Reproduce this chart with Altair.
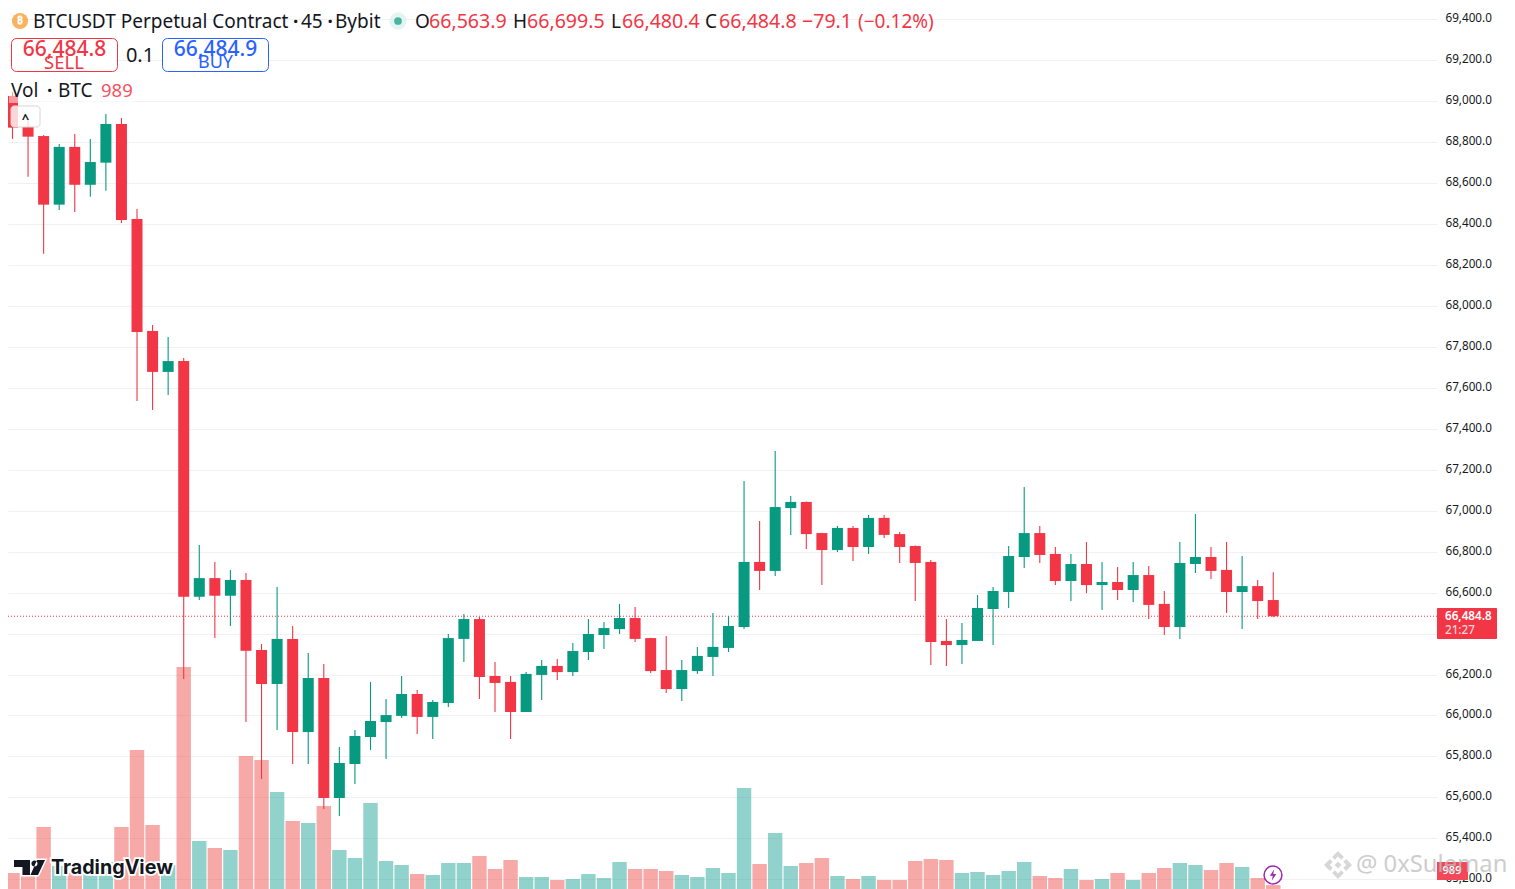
import altair as alt
import pandas as pd

# candle values (45-minute BTCUSDT)
opens = [69026,68874,68830,68495,68777,68592,68700,68889,68425,67878,67678,67731,66580,66671,66585,66662,66320,66154,66374,65919,
         66183,65597,65763,65895,65968,65998,66105,65993,66061,66374,66471,66193,66164,66017,66198,66242,66212,66310,66393,66422,
         66476,66378,66222,66129,66217,66286,66330,66432,66750,66706,67013,67043,66891,66808,66916,66823,66965,66886,66828,66750,
         66364,66344,66364,66520,66603,66774,66891,66789,66657,66740,66637,66652,66613,66686,66545,66432,66740,66774,66711,66603,
         66632,66563.9]
highs = [69045,68908,68835,68791,68840,68816,68938,68918,68474,67907,67849,67746,66833,66750,66711,66696,66349,66628,66437,66305,
         66251,65846,65929,66164,66081,66193,66125,66076,66398,66496,66481,66261,66193,66212,66271,66276,66354,66471,66457,66545,
         66530,66380,66388,66271,66335,66501,66486,67145,66950,67292,67072,67045,66893,66925,66925,66979,66979,66896,66830,66760,
         66471,66452,66588,66628,66828,67116,66925,66823,66789,66847,66750,66725,66750,66730,66608,66847,66984,66823,66847,66779,
         66662,66699.5]
lows = [68816,68631,68255,68469,68459,68534,68563,68405,67536,67492,67565,66178,66564,66378,66437,65968,65690,65929,65763,65763,
        65543,65509,65665,65831,65787,65988,65910,65885,66041,66261,66081,66017,65885,66017,66076,66173,66193,66271,66325,66398,
        66359,66208,66110,66071,66203,66193,66310,66422,66613,66681,66882,66813,66637,66798,66755,66789,66867,66745,66559,66247,
        66242,66251,66364,66344,66525,66720,66745,66637,66559,66598,66515,66564,66554,66471,66393,66374,66696,66667,66501,66422,
        66471,66480.4]
closes = [68871,68827,68495,68777,68592,68703,68889,68420,67873,67678,67731,66580,66671,66585,66662,66316,66154,66374,65919,66183,
          65597,65768,65900,65973,66002,66105,65993,66066,66378,66471,66188,66159,66017,66203,66242,66212,66315,66398,66427,66476,
          66374,66217,66129,66222,66291,66335,66437,66750,66706,67018,67043,66886,66808,66916,66823,66965,66882,66823,66745,66359,
          66344,66369,66525,66608,66779,66891,66784,66657,66740,66637,66652,66613,66686,66540,66432,66745,66774,66706,66603,66632,
          66559,66484.8]
volumes = [4000,3500,15500,5750,4000,4750,6750,15500,34750,16000,6000,55500,12000,10250,9750,33250,32250,24250,17000,16500,
           20750,9750,7750,21500,7000,6000,3750,3500,6500,6500,8250,5000,7250,3000,3000,2250,2500,3750,2750,6750,
           5000,5000,4500,3500,3000,5250,4000,25250,6250,14000,5750,6500,7750,3250,2500,3250,2250,2250,7000,7500,
           7250,4000,4250,3500,4500,6750,3250,2750,5000,2250,2500,4000,2250,4000,5250,6500,6000,4750,6500,5500,
           2750,989]
price_ticks = list(range(65200, 69401, 200))
time_grid = list(range(1, 90, 4))
last_price = 66484.8

FONT = "Noto Sans"
RED = "#F23645"
GREEN = "#089981"
BLUE = "#2962FF"
INK = "#131722"

df = pd.DataFrame({"i": range(len(opens)), "o": opens, "h": highs, "l": lows, "c": closes, "v": volumes})
df["dir"] = ["up" if c >= o else "down" for o, c in zip(opens, closes)]

W, H = 1429, 881
x_scale = alt.Scale(domain=[-0.289, 91.52], nice=False, zero=False, padding=0)
y_scale = alt.Scale(domain=[65152.6, 69455.4], nice=False, zero=False, padding=0)
v_scale = alt.Scale(domain=[0, 220250], nice=False, zero=False, padding=0)
candle_col = alt.Color("dir:N", scale=alt.Scale(domain=["up", "down"], range=[GREEN, RED]), legend=None)
vol_col = alt.Color("dir:N", scale=alt.Scale(domain=["up", "down"], range=["#26a69a", "#ef5350"]), legend=None)
X = alt.X("i:Q", scale=x_scale, axis=None)
base = alt.Chart(df)

# price line carries the axes and the grid
line = alt.Chart(pd.DataFrame({"p": [last_price], "i": [-0.289], "j": [91.52]})).mark_rule(
    color=RED, strokeWidth=1, strokeDash=[1, 2]
).encode(
    x=alt.X("i:Q", scale=x_scale, axis=alt.Axis(values=time_grid, labels=False, ticks=False, domain=False,
                                                grid=True, gridColor="#EFEFEF", gridWidth=1, title=None)),
    x2="j:Q",
    y=alt.Y("p:Q", scale=y_scale, axis=alt.Axis(orient="right", values=price_ticks, format=",.1f", ticks=False,
                                                domain=False, grid=True, gridColor="#F1F1F1", gridWidth=1, title=None,
                                                labelFont=FONT, labelFontSize=11.7, labelColor=INK, labelPadding=8,
                                                labelOffset=-1.5)),
)
vol = base.mark_bar(size=14.4, opacity=0.5).encode(
    x=X, y=alt.Y("v:Q", scale=v_scale, axis=None), color=vol_col)
wick = base.mark_rule(strokeWidth=1.1).encode(
    x=X, y=alt.Y("l:Q", scale=y_scale, axis=None), y2="h:Q", color=candle_col)
body = base.mark_bar(size=11).encode(
    x=X, y=alt.Y("o:Q", scale=y_scale, axis=None), y2="c:Q", color=candle_col)

one = alt.Data(values=[{"a": 1}])


def text(s, x, y, size=19, color=INK, align="left", weight=400, font=FONT, **kw):
    return alt.Chart(one).mark_text(text=s, fontSize=size, color=color, align=align, baseline="middle",
                                    fontWeight=weight, font=font, **kw).encode(
        x=alt.value(x - 8), y=alt.value(y - 7))


def box(x0, x1, y0, y1, fill="white", stroke=None, radius=0, opacity=1.0):
    kw = {"cornerRadius": radius, "fill": fill, "fillOpacity": opacity}
    if stroke:
        kw.update(stroke=stroke, strokeWidth=1)
    return alt.Chart(one).mark_rect(**kw).encode(
        x=alt.value(x0 - 8), x2=alt.value(x1 - 8), y=alt.value(y0 - 8), y2=alt.value(y1 - 8))


def glyph(path, cx, cy, span, color, filled=True, sw=1.0, opacity=1.0):
    kw = dict(shape=path, size=span * span, filled=filled, opacity=opacity)
    if filled:
        kw.update(fill=color, strokeWidth=0)
    else:
        kw.update(stroke=color, strokeWidth=sw, fillOpacity=0)
    return alt.Chart(one).mark_point(**kw).encode(x=alt.value(cx - 8), y=alt.value(cy - 8))


LOGO = ("M-0.97,-0.47L0.03,-0.47L0.03,0.47L-0.44,0.47L-0.44,-0.03L-0.97,-0.03Z"
        "M0.12,-0.25a0.19,0.19 0 1 0 0.38,0a0.19,0.19 0 1 0 -0.38,0Z"
        "M0.47,-0.47L0.97,-0.47L0.53,0.47L0.06,0.47Z")
BOLT = "M0.2,-1L-0.6,0.15L-0.05,0.15L-0.2,1L0.6,-0.2L0.05,-0.2Z"
DIAMOND = ("M0,-1L0.42,-0.58L0.22,-0.38L0,-0.6L-0.22,-0.38L-0.42,-0.58Z"
           "M0.58,-0.42L1,0L0.58,0.42L0.38,0.2L0.6,0L0.38,-0.22Z"
           "M-0.58,-0.42L-1,0L-0.58,0.42L-0.38,0.2L-0.6,0L-0.38,-0.22Z"
           "M0,-0.25L0.25,0L0,0.25L-0.25,0Z"
           "M0,1L0.42,0.58L0.22,0.38L0,0.6L-0.22,0.38L-0.42,0.58Z")

NUM = 19.6
chrome = [
    box(9, 135, 79, 103, opacity=0.5),
    box(11, 40, 106, 127, stroke="#D6D6D6", radius=3, opacity=0.8),
    text("^", 25.5, 118, size=13, weight=700, align="center"),
    # header
    alt.Chart(one).mark_point(shape="circle", size=260, filled=True, fill="#F7931A", strokeWidth=0).encode(
        x=alt.value(12), y=alt.value(13)),
    text("₿", 20, 20, size=11, color="white", align="center", weight=700),
    text("BTCUSDT Perpetual Contract", 33, 21),
    text("·", 293, 21, weight=700),
    text("45", 301, 21),
    text("·", 327.5, 21, weight=700),
    text("Bybit", 335, 21),
    alt.Chart(one).mark_point(shape="circle", size=300, filled=True, fill="#D9EFEC", strokeWidth=0).encode(
        x=alt.value(390), y=alt.value(13)),
    alt.Chart(one).mark_point(shape="circle", size=60, filled=True, fill=GREEN, strokeWidth=0).encode(
        x=alt.value(390), y=alt.value(13)),
    text("O", 415, 21), text("66,563.9", 429, 21, size=NUM, color=RED),
    text("H", 513, 21), text("66,699.5", 527, 21, size=NUM, color=RED),
    text("L", 611, 21), text("66,480.4", 622, 21, size=NUM, color=RED),
    text("C", 705, 21), text("66,484.8", 719, 21, size=NUM, color=RED),
    text("−79.1", 802, 21, size=NUM, color=RED),
    text("(−0.12%)", 858, 21, size=19, color=RED),
    # order boxes
    box(11.5, 117.5, 38.5, 71.5, fill="white", stroke=RED, radius=5),
    text("66,484.8", 64.5, 49, size=21, color=RED, align="center", weight=500),
    text("SELL", 64, 62, size=18.5, color=RED, align="center"),
    text("0.1", 140, 55, size=20, align="center"),
    box(162.5, 268.5, 38.5, 71.5, fill="white", stroke=BLUE, radius=5),
    text("66,484.9", 215.5, 49, size=21, color=BLUE, align="center", weight=500),
    text("BUY", 215.5, 62, size=18, color=BLUE, align="center"),
    text("Vol", 11, 90), text("·", 47, 90, weight=700), text("BTC", 58, 90),
    text("989", 101, 90, size=18.5, color="#F7525F"),
    # logo
    glyph(LOGO, 29.5, 867.5, 32, "white", filled=False, sw=3),
    glyph(LOGO, 29.5, 867.5, 32, "#131722"),
    text("TradingView", 51, 867, size=19.7, color="white", weight=700, font="Inter", stroke="white", strokeWidth=3.5),
    text("TradingView", 51, 867, size=19.7, color="#131722", weight=700, font="Inter"),
    # lightning
    alt.Chart(one).mark_point(shape="circle", size=320, filled=True, fill="white", stroke="#9C27B0", strokeWidth=1.5,
                              opacity=1).encode(x=alt.value(1265), y=alt.value(867)),
    glyph(BOLT, 1273, 875, 11, "#9C27B0"),
    # price labels
    box(1437, 1497, 608, 639, fill=RED, radius=1),
    text("66,484.8", 1445, 615, size=11.7, color="white", weight=600),
    text("21:27", 1445, 629, size=11.7, color="#FFD5D9", weight=500),
    box(1437, 1468, 862, 880, fill="#F2485A"),
    text("989", 1452, 870, size=11, color="white", align="center", weight=600),
    # watermark
    glyph(DIAMOND, 1338, 865, 28, "#C9C9C9", opacity=0.75),
    text("@ 0xSuleman", 1356, 864, size=23.8, color="#BDBDBD", opacity=0.75),
]

chart = alt.layer(line, vol, wick, body, *chrome).resolve_scale(y="independent", color="independent").properties(
    width=W, height=H, autosize="none", padding={"left": 0, "top": 0, "right": 70, "bottom": 0},
).configure_view(stroke=None)

chart.save("out.html", embed_options={"renderer": "svg", "actions": False})
